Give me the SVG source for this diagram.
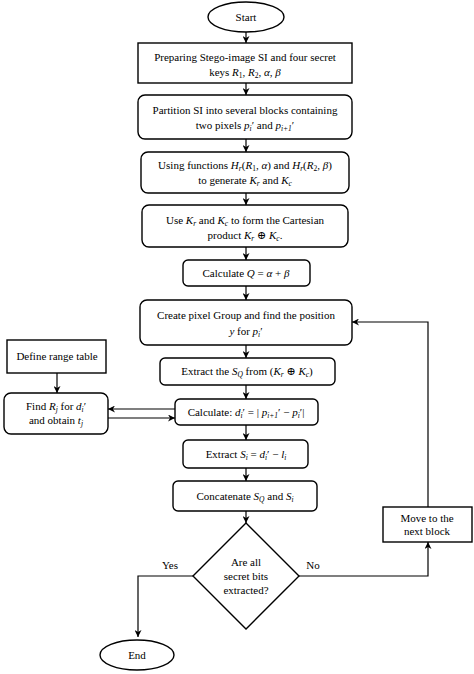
<svg xmlns="http://www.w3.org/2000/svg" width="474" height="674" viewBox="0 0 474 674">
<defs>
<marker id="ah" viewBox="0 0 10 10" refX="10" refY="5" markerWidth="7" markerHeight="7" markerUnits="userSpaceOnUse" orient="auto">
<path d="M0,0 L10,5 L0,10 L3,5 z" fill="#000"/>
</marker>
<style>
.n{fill:#fff;stroke:#000;stroke-width:1.4}
.t{font-family:'Liberation Serif','DejaVu Serif',serif;font-size:11px;fill:#000;text-anchor:middle}
.i{font-style:italic}
.s{font-size:7.5px}
.c path{fill:none;stroke:#000;stroke-width:1.2}
</style>
</defs>
<rect width="474" height="674" fill="#fff"/>
<g class="c">
<path d="M246,32 V43" marker-end="url(#ah)"/>
<path d="M246,83 V95" marker-end="url(#ah)"/>
<path d="M246,139 V152" marker-end="url(#ah)"/>
<path d="M246,193 V205" marker-end="url(#ah)"/>
<path d="M246,247 V260" marker-end="url(#ah)"/>
<path d="M246,286 V300" marker-end="url(#ah)"/>
<path d="M246,345 V358" marker-end="url(#ah)"/>
<path d="M246,385 V399" marker-end="url(#ah)"/>
<path d="M246,425 V440" marker-end="url(#ah)"/>
<path d="M246,468 V481" marker-end="url(#ah)"/>
<path d="M246,511 V523" marker-end="url(#ah)"/>
<path d="M57,373 V393" marker-end="url(#ah)"/>
<path d="M175,409 H108" marker-end="url(#ah)"/>
<path d="M108,418 H175" marker-end="url(#ah)"/>
<path d="M193,576 H138 V637" marker-end="url(#ah)"/>
<path d="M299,576 H428 V542" marker-end="url(#ah)"/>
<path d="M428,507 V322 H352" marker-end="url(#ah)"/>
</g>
<g id="start"><ellipse class="n" cx="246" cy="17" rx="38" ry="15"/><text class="t" x="246" y="21" font-family="Liberation Serif, serif">Start</text></g>
<g id="prepare"><rect class="n" x="138" y="43" width="214" height="40"/>
<text class="t" x="245" y="61">Preparing Stego-image SI and four secret</text>
<text class="t" x="245" y="76">keys <tspan class="i">R</tspan><tspan class="s" dy="2">1</tspan><tspan dy="-2">, </tspan><tspan class="i">R</tspan><tspan class="s" dy="2">2</tspan><tspan dy="-2">, </tspan><tspan class="i">α</tspan>, <tspan class="i">β</tspan></text></g>
<g id="partition"><rect class="n" x="138" y="95" width="214" height="44" rx="7"/>
<text class="t" x="245" y="114">Partition SI into several blocks containing</text>
<text class="t" x="245" y="129">two pixels <tspan class="i">p</tspan><tspan class="s i" dy="2">i</tspan><tspan dy="-2">′ and </tspan><tspan class="i">p</tspan><tspan class="s i" dy="2">i+1</tspan><tspan dy="-2">′</tspan></text></g>
<g id="functions"><rect class="n" x="141" y="152" width="208" height="41" rx="7"/>
<text class="t" x="245" y="169">Using functions <tspan class="i">H</tspan><tspan class="s i" dy="2">r</tspan><tspan dy="-2">(</tspan><tspan class="i">R</tspan><tspan class="s" dy="2">1</tspan><tspan dy="-2">, </tspan><tspan class="i">α</tspan>) and <tspan class="i">H</tspan><tspan class="s i" dy="2">r</tspan><tspan dy="-2">(</tspan><tspan class="i">R</tspan><tspan class="s" dy="2">2</tspan><tspan dy="-2">, </tspan><tspan class="i">β</tspan>)</text>
<text class="t" x="245" y="184">to generate <tspan class="i">K</tspan><tspan class="s i" dy="2">r</tspan><tspan dy="-2"> and </tspan><tspan class="i">K</tspan><tspan class="s i" dy="2">c</tspan></text></g>
<g id="cartesian"><rect class="n" x="142" y="205" width="206" height="42" rx="7"/>
<text class="t" x="245" y="224">Use <tspan class="i">K</tspan><tspan class="s i" dy="2">r</tspan><tspan dy="-2"> and </tspan><tspan class="i">K</tspan><tspan class="s i" dy="2">c</tspan><tspan dy="-2"> to form the Cartesian</tspan></text>
<text class="t" x="245" y="239">product <tspan class="i">K</tspan><tspan class="s i" dy="2">r</tspan><tspan dy="-2"> ⊕ </tspan><tspan class="i">K</tspan><tspan class="s i" dy="2">c</tspan><tspan dy="-2">.</tspan></text></g>
<g id="calcq"><rect class="n" x="183" y="260" width="127" height="26" rx="5"/>
<text class="t" x="246" y="277">Calculate <tspan class="i">Q</tspan> = <tspan class="i">α</tspan> + <tspan class="i">β</tspan></text></g>
<g id="group"><rect class="n" x="140" y="300" width="212" height="45" rx="7"/>
<text class="t" x="246" y="319">Create pixel Group and find the position</text>
<text class="t" x="246" y="335"><tspan class="i">y</tspan>  for <tspan class="i">p</tspan><tspan class="s i" dy="2">i</tspan><tspan dy="-2">′</tspan></text></g>
<g id="extractq"><rect class="n" x="160" y="358" width="175" height="27" rx="5"/>
<text class="t" x="247" y="375">Extract the <tspan class="i">S</tspan><tspan class="s i" dy="2">Q</tspan><tspan dy="-2"> from (</tspan><tspan class="i">K</tspan><tspan class="s i" dy="2">r</tspan><tspan dy="-2"> ⊕ </tspan><tspan class="i">K</tspan><tspan class="s i" dy="2">c</tspan><tspan dy="-2">)</tspan></text></g>
<g id="calcd"><rect class="n" x="175" y="399" width="143" height="26" rx="5"/>
<text class="t" x="246" y="416">Calculate: <tspan class="i">d</tspan><tspan class="s i" dy="2">i</tspan><tspan dy="-2">′ = | </tspan><tspan class="i">p</tspan><tspan class="s i" dy="2">i+1</tspan><tspan dy="-2">′ − </tspan><tspan class="i">p</tspan><tspan class="s i" dy="2">i</tspan><tspan dy="-2">′|</tspan></text></g>
<g id="extracts"><rect class="n" x="183" y="440" width="125" height="28" rx="5"/>
<text class="t" x="246" y="458">Extract <tspan class="i">S</tspan><tspan class="s i" dy="2">i</tspan><tspan dy="-2"> = </tspan><tspan class="i">d</tspan><tspan class="s i" dy="2">i</tspan><tspan dy="-2">′ − </tspan><tspan class="i">l</tspan><tspan class="s i" dy="2">i</tspan></text></g>
<g id="concat"><rect class="n" x="173" y="481" width="144" height="30" rx="5"/>
<text class="t" x="245" y="500">Concatenate <tspan class="i">S</tspan><tspan class="s i" dy="2">Q</tspan><tspan dy="-2"> and </tspan><tspan class="i">S</tspan><tspan class="s i" dy="2">i</tspan></text></g>
<g id="decision"><path class="n" d="M246,523 L299,576 L246,629 L193,576 Z"/>
<text class="t" x="246" y="566">Are all</text>
<text class="t" x="246" y="580">secret bits</text>
<text class="t" x="246" y="594">extracted?</text></g>
<g id="end"><ellipse class="n" cx="137" cy="655" rx="37" ry="15"/><text class="t" x="137" y="659">End</text></g>
<g id="range"><rect class="n" x="7" y="340" width="99" height="33"/>
<text class="t" x="57" y="360">Define range table</text></g>
<g id="find"><rect class="n" x="4" y="393" width="104" height="41" rx="7"/>
<text class="t" x="56" y="410">Find <tspan class="i">R</tspan><tspan class="s i" dy="2">j</tspan><tspan dy="-2"> for </tspan><tspan class="i">d</tspan><tspan class="s i" dy="2">i</tspan><tspan dy="-2">′</tspan></text>
<text class="t" x="56" y="424">and obtain <tspan class="i">t</tspan><tspan class="s i" dy="2">j</tspan></text></g>
<g id="move"><rect class="n" x="383" y="507" width="89" height="35"/>
<text class="t" x="427" y="522">Move to the</text>
<text class="t" x="427" y="535">next block</text></g>
<text class="t" x="170" y="569">Yes</text>
<text class="t" x="313" y="569">No</text>
</svg>
